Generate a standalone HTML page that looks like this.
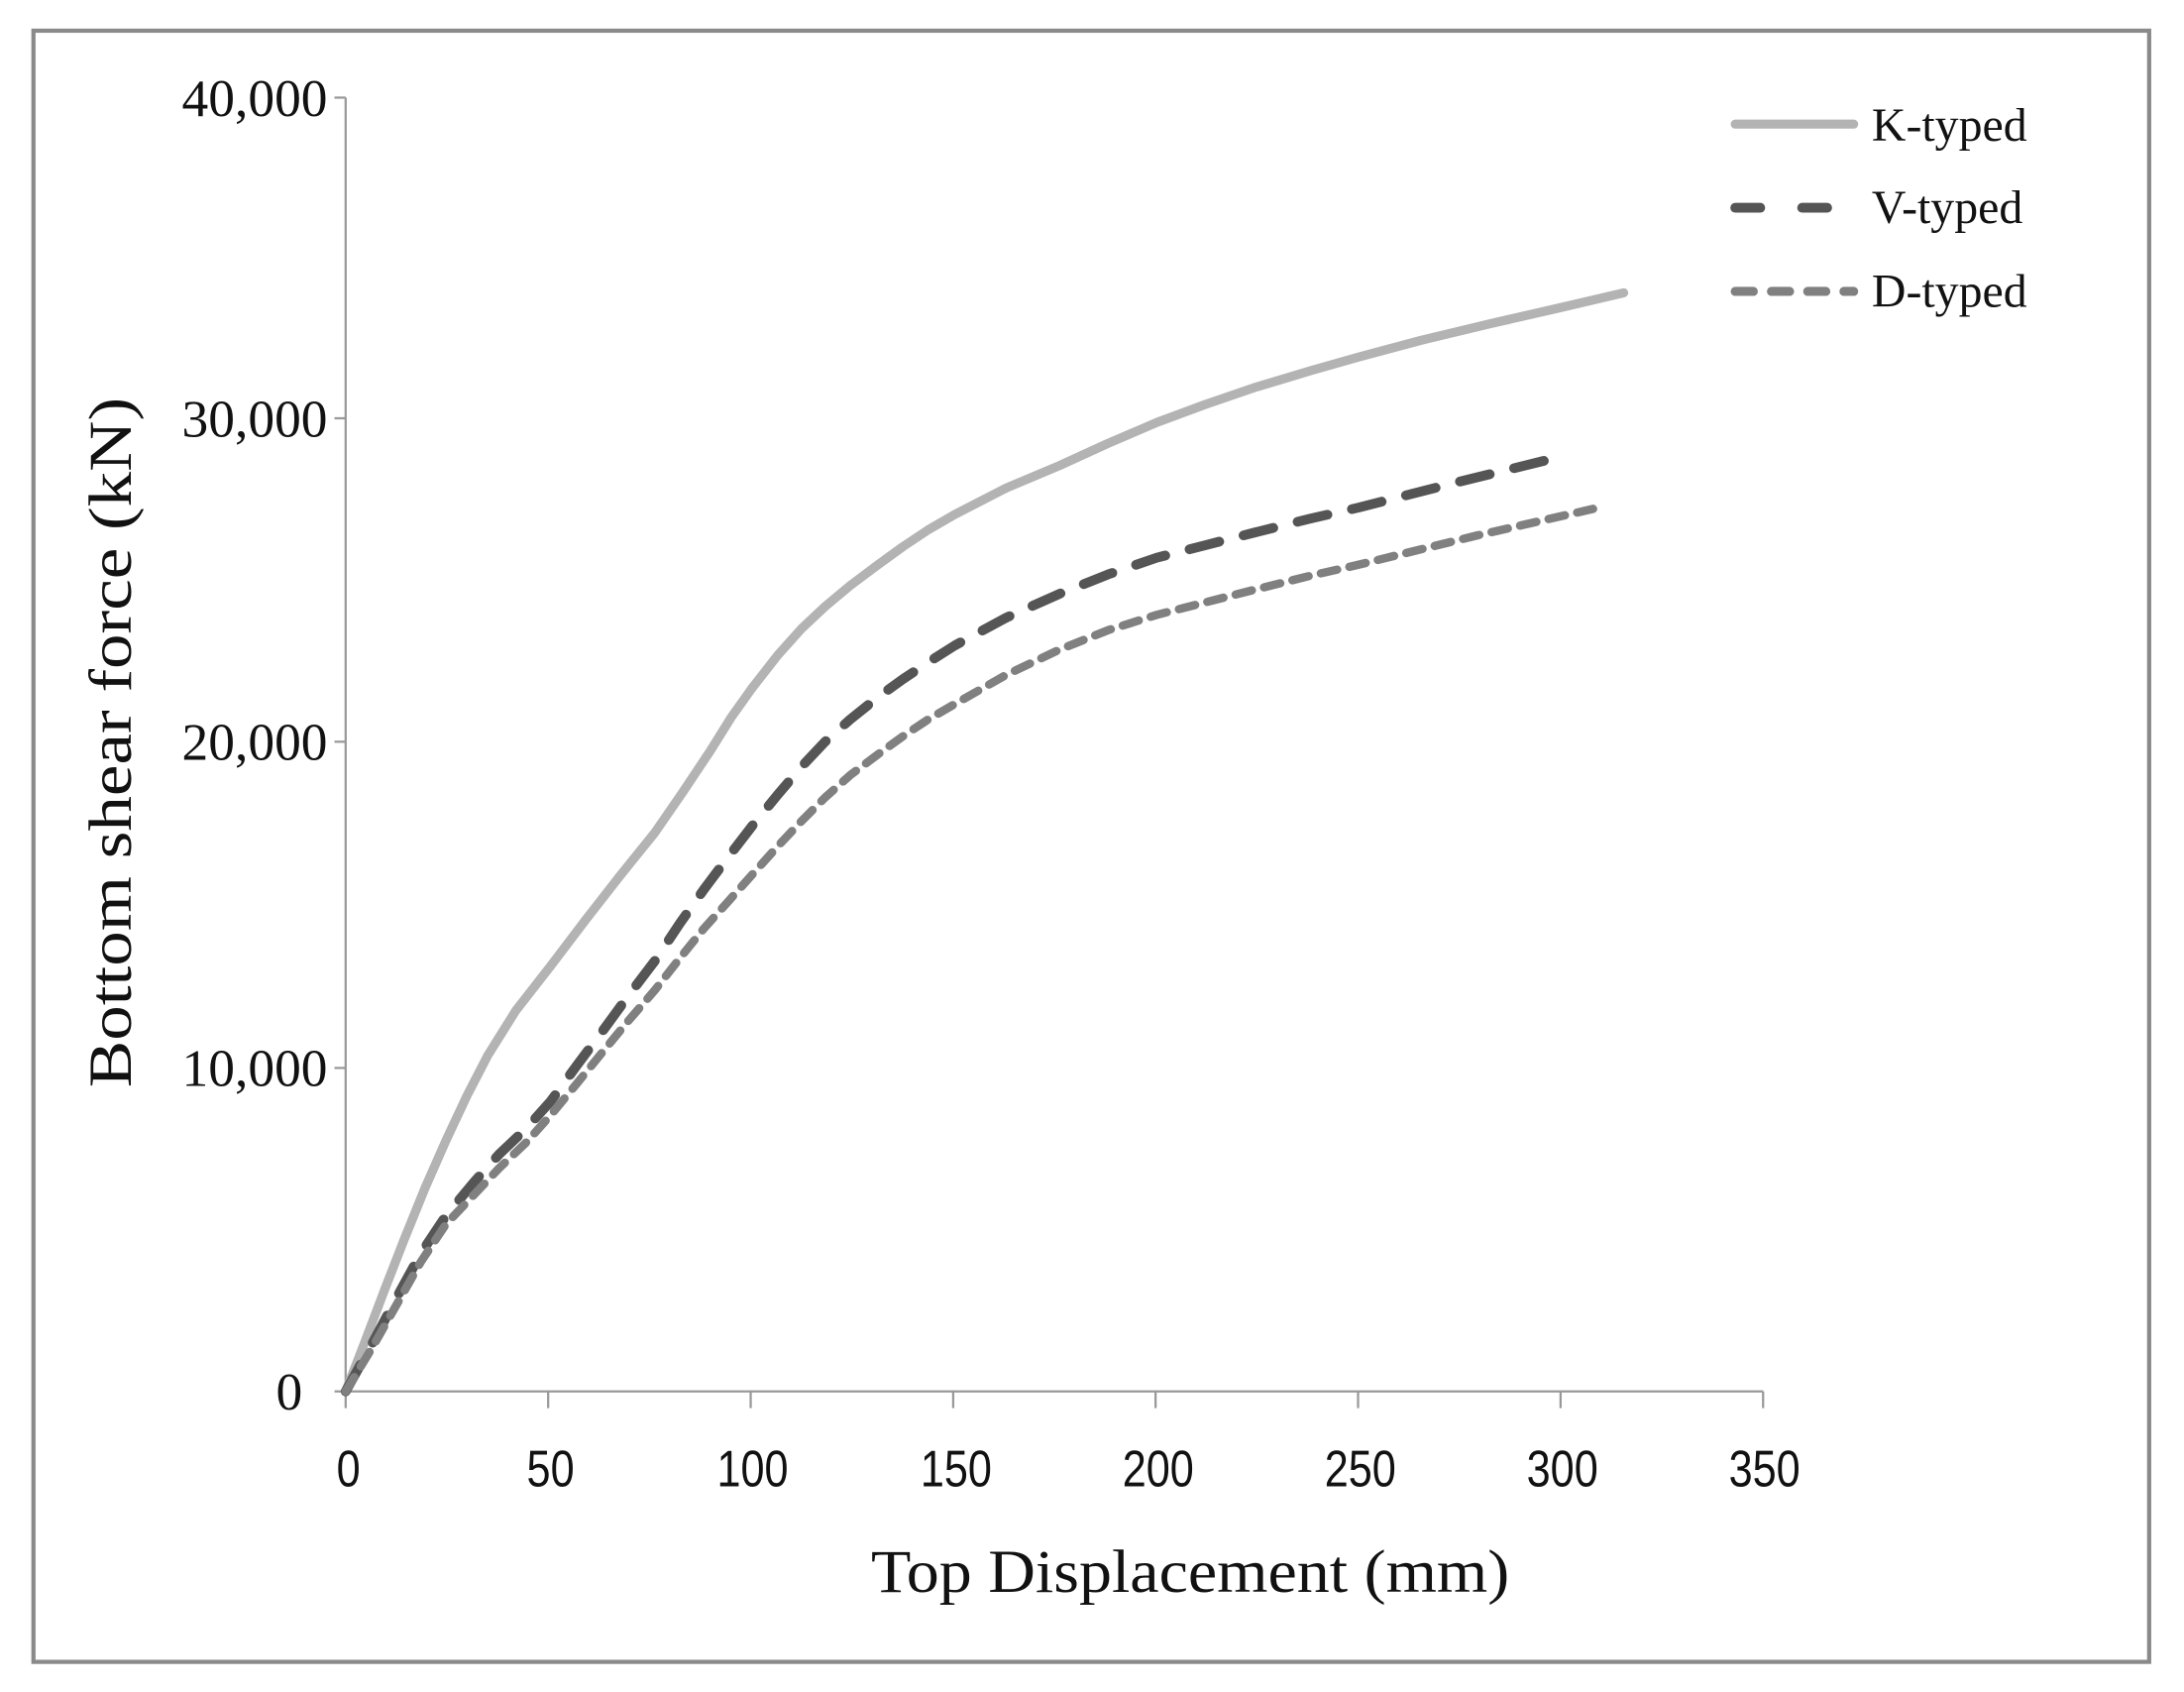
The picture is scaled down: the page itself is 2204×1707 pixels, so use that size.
<!DOCTYPE html>
<html><head><meta charset="utf-8"><style>html,body{margin:0;padding:0;background:#fff}svg{display:block}</style></head>
<body>
<svg width="2204" height="1707" viewBox="0 0 1567 1213.6" xmlns="http://www.w3.org/2000/svg">
<rect x="0" y="0" width="1567" height="1213.6" fill="#fff"/>
<rect x="24" y="22" width="1518" height="1170" fill="none" stroke="#8a8a8a" stroke-width="3"/>
<g stroke="#999" stroke-width="1.6" fill="none">
<line x1="248" y1="70" x2="248" y2="998"/>
<line x1="240" y1="998" x2="1265" y2="998"/>
<line x1="240" y1="70" x2="248" y2="70"/>
<line x1="240" y1="300" x2="248" y2="300"/>
<line x1="240" y1="532" x2="248" y2="532"/>
<line x1="240" y1="766" x2="248" y2="766"/>
<line x1="248" y1="998" x2="248" y2="1010"/>
<line x1="393.3" y1="998" x2="393.3" y2="1010"/>
<line x1="538.6" y1="998" x2="538.6" y2="1010"/>
<line x1="683.9" y1="998" x2="683.9" y2="1010"/>
<line x1="829.1" y1="998" x2="829.1" y2="1010"/>
<line x1="974.4" y1="998" x2="974.4" y2="1010"/>
<line x1="1119.7" y1="998" x2="1119.7" y2="1010"/>
<line x1="1265" y1="998" x2="1265" y2="1010"/>
</g>
<g font-family="Liberation Serif, serif" font-size="38" fill="#111" text-anchor="end">
<text x="235" y="83">40,000</text>
<text x="235" y="313">30,000</text>
<text x="235" y="545">20,000</text>
<text x="235" y="779">10,000</text>
<text x="217" y="1011">0</text>
</g>
<g font-family="Liberation Sans, sans-serif" font-size="37" fill="#111" text-anchor="middle">
<text x="250" y="1066" transform="translate(250 0) scale(0.83 1) translate(-250 0)">0</text>
<text x="395" y="1066" transform="translate(395 0) scale(0.83 1) translate(-395 0)">50</text>
<text x="540" y="1066" transform="translate(540 0) scale(0.83 1) translate(-540 0)">100</text>
<text x="686" y="1066" transform="translate(686 0) scale(0.83 1) translate(-686 0)">150</text>
<text x="831" y="1066" transform="translate(831 0) scale(0.83 1) translate(-831 0)">200</text>
<text x="976" y="1066" transform="translate(976 0) scale(0.83 1) translate(-976 0)">250</text>
<text x="1121" y="1066" transform="translate(1121 0) scale(0.83 1) translate(-1121 0)">300</text>
<text x="1266" y="1066" transform="translate(1266 0) scale(0.83 1) translate(-1266 0)">350</text>
</g>
<text x="625" y="1142" font-family="Liberation Serif, serif" font-size="44" fill="#111" textLength="458" lengthAdjust="spacingAndGlyphs">Top Displacement  (mm)</text>
<text transform="translate(94 780) rotate(-90)" x="0" y="0" font-family="Liberation Serif, serif" font-size="44" fill="#111" textLength="495" lengthAdjust="spacingAndGlyphs">Bottom shear force  (kN)</text>
<g fill="none" stroke-linejoin="round" stroke-linecap="round">
<polyline stroke="#b3b3b3" stroke-width="6.5" points="248,998 262,962 276,925 290,889 305,852 320,818 335,786 350,757 370,725 395,693 420,660 445,628 470,597 490,568 510,538 525,514 540,493 558,470 575,451 592,435 610,420 630,405 648,392 666,380 685,369 722,350 760,334 795,318 830,303 865,290 900,278 940,266 975,256 1020,244 1070,232 1118,221 1165,210"/>
<polyline stroke="#555" stroke-width="7" stroke-dasharray="22 18" points="248,998 268,962 285,930 302,899 320,872 340,848 358,828 377,810 395,790 414,764 432,740 451,714 470,689 488,662 505,638 523,614 540,592 558,570 575,550 592,532 610,516 630,500 648,487 666,475 685,463 722,443 760,426 795,412 830,400 865,391 900,382 940,372 975,364 1045,346 1118,328"/>
<polyline stroke="#808080" stroke-width="6" stroke-dasharray="12 9" points="248,998 268,965 285,935 302,905 320,878 340,857 358,838 377,820 395,800 414,777 432,755 451,732 470,710 488,687 505,666 523,646 540,627 558,607 575,589 592,572 610,556 630,541 648,528 666,516 685,505 722,484 760,466 795,452 830,441 865,432 900,423 940,413 975,405 1060,384 1143,365"/>
</g>
<g stroke-linecap="round">
<line x1="1245" y1="89" x2="1330" y2="89" stroke="#b3b3b3" stroke-width="6.5"/>
<line x1="1245" y1="149" x2="1330" y2="149" stroke="#555" stroke-width="7" stroke-dasharray="18 30"/>
<line x1="1245" y1="209" x2="1330" y2="209" stroke="#808080" stroke-width="6.5" stroke-dasharray="13 13"/>
</g>
<g font-family="Liberation Serif, serif" font-size="34" fill="#111">
<text x="1343" y="101">K-typed</text>
<text x="1343" y="160">V-typed</text>
<text x="1343" y="220">D-typed</text>
</g>
</svg>
</body></html>
